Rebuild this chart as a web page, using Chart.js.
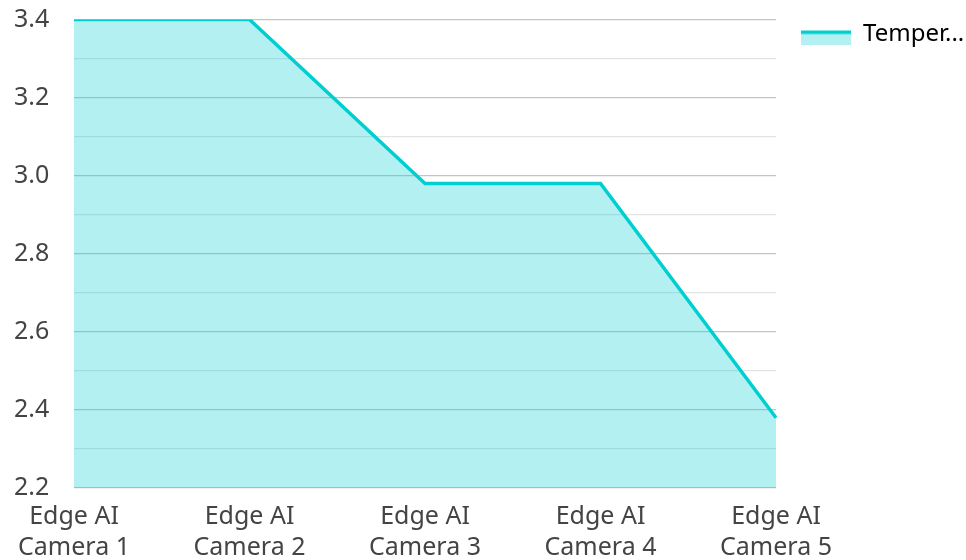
<!DOCTYPE html>
<html><head><meta charset="utf-8">
<script src="https://cdn.jsdelivr.net/npm/chart.js@4/dist/chart.umd.min.js"></script>
<style>html,body{margin:0;padding:0;background:#fff}#wrap{width:966px;height:560px}</style>
</head><body><div id="wrap"><canvas id="c" width="966" height="560"></canvas></div>
<script>
const categories = [["Edge AI","Camera 1"],["Edge AI","Camera 2"],["Edge AI","Camera 3"],["Edge AI","Camera 4"],["Edge AI","Camera 5"]];
const seriesLabel = "Temperature";
const legendText = "Temper...";
const values = [3.4, 3.4, 2.98, 2.98, 2.38];
const yMin = 2.2, yMax = 3.4, yStep = 0.1;

const lineColor = "rgb(0,206,209)";
const fillColor = "rgba(0,206,209,0.3)";

const icon = document.createElement('canvas');
icon.width = 50; icon.height = 20;
{ const g = icon.getContext('2d');
  g.fillStyle = fillColor; g.fillRect(0,6,50,14);
  g.fillStyle = lineColor; g.fillRect(0,6,50,3.5); }

Chart.defaults.font.family = "'Noto Sans', sans-serif";
Chart.defaults.font.size = 25;
Chart.defaults.color = "#444";

const legendWidthFix = {
  id: 'legendWidthFix',
  beforeLayout(chart) {
    const lg = chart.legend;
    if (lg && !lg._fixed) {
      const f = lg.fit.bind(lg);
      lg.fit = function () { f(); this.width = 168; };
      lg._fixed = true;
    }
  }
};

new Chart(document.getElementById('c'), {
  type: 'line',
  data: { labels: categories, datasets: [{
    label: seriesLabel, data: values, borderColor: lineColor, backgroundColor: fillColor,
    borderWidth: 3.5, pointRadius: 0, fill: 'start', tension: 0
  }]},
  plugins: [legendWidthFix],
  options: {
    responsive: false, animation: false,
    layout: { padding: { top: 0, right: 0, left: 14, bottom: 0 } },
    plugins: {
      legend: { position: 'right', align: 'start', fullSize: false,
        labels: { usePointStyle: true, pointStyle: icon, pointStyleWidth: 50, boxHeight: 14, padding: 3,
          color: '#222', font: { size: 24 },
          generateLabels: (chart) => [{ text: legendText, pointStyle: icon, fillStyle: fillColor, strokeStyle: lineColor, lineWidth: 0, datasetIndex: 0, hidden: false }] } },
      tooltip: { enabled: false }
    },
    scales: {
      x: { grid: { display: false }, border: { display: false },
           ticks: { maxRotation: 0, autoSkip: false, padding: 5, font: { size: 25, lineHeight: 1.24 } },
           afterFit: (s) => { s.height = 72; } },
      y: { min: yMin, max: yMax, border: { display: false },
           grid: { drawTicks: false, lineWidth: 1.2,
             color: (ctx) => { const v = Math.round(ctx.tick.value*10); return v % 2 === 0 ? '#c4c4c4' : '#e4e4e4'; } },
           ticks: { stepSize: yStep, padding: 4.5, crossAlign: 'far', autoSkip: false,
             callback: (v) => { const k = Math.round(v*10); return k % 2 === 0 ? v.toFixed(1) : ''; } },
           afterFit: (s) => { s.width = 60; } },
      gap: { type: 'linear', position: 'right', display: true, grid: { display: false }, border: { display: false },
             ticks: { display: false }, afterFit: (s) => { s.width = 22; } }
    }
  }
});
</script></body></html>
